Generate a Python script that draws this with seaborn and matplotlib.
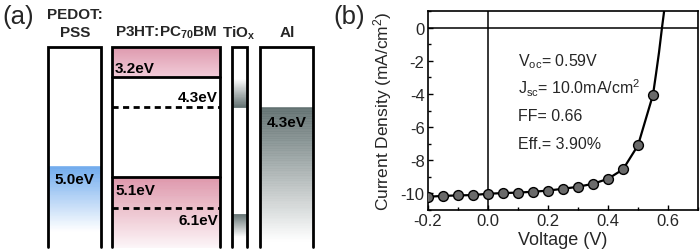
import numpy as np
import matplotlib
matplotlib.use("Agg")
import matplotlib.pyplot as plt
import matplotlib.transforms as mtransforms
from matplotlib.ticker import MultipleLocator
import seaborn as sns

# ---- panel (a): energy levels (eV) ----
pedot_level = 5.0
p3ht_lumo, p3ht_homo = 3.2, 5.1
pcbm_lumo, pcbm_homo = 4.3, 6.1
tiox_cb, tiox_vb = 4.3, 7.4
al_level = 4.3

# ---- panel (b): J-V curve ----
voltage = [-0.2, -0.15, -0.1, -0.05, 0.0, 0.05, 0.1, 0.15, 0.2, 0.25,
           0.3, 0.35, 0.4, 0.45, 0.5, 0.55]
current = [-10.2, -10.15, -10.12, -10.1, -10.02, -9.98, -9.95, -9.9, -9.83,
           -9.72, -9.6, -9.42, -9.12, -8.55, -7.1, -4.05]
tail_v = [0.56, 0.57, 0.58, 0.59]
tail_j = [-2.8, -1.5, 0.0, 1.4]
params = ["V$_{\\mathrm{oc}}$= 0.59V", "J$_{\\mathrm{sc}}$= 10.0mA/cm$^{\\mathrm{2}}$",
          "FF= 0.66", "Eff.= 3.90%"]

sns.set_theme(style="ticks")
plt.rcParams["font.family"] = ["Liberation Sans", "DejaVu Sans"]
plt.rcParams["mathtext.fontset"] = "custom"
plt.rcParams["mathtext.rm"] = "Liberation Sans"
plt.rcParams["mathtext.it"] = "Liberation Sans:italic"
plt.rcParams["mathtext.bf"] = "Liberation Sans:bold"

W, H = 700, 253
fig = plt.figure(figsize=(7, 2.53), dpi=100)

# schematic (non-linear) energy axis: eV -> depth in the drawing
anchor_e = np.array([1.0, 2.2, 3.2, 4.3, 5.0, 5.1, 6.1, 7.4, 8.4, 8.6])
anchor_p = np.array([0, 48, 78, 108, 167, 178, 209, 215, 248, 253], float)
fwd = lambda e: np.interp(e, anchor_e, anchor_p)
inv = lambda p: np.interp(p, anchor_p, anchor_e)

axa = fig.add_axes([0, 0, 360 / W, 1])
axa.set_yscale("function", functions=(fwd, inv))
axa.set_xlim(0, 360)
axa.set_ylim(inv(253), inv(0))
axa.axis("off")

top_e, bot_e = inv(48), inv(248)


def gradient(x0, x1, e_a, e_b, c_a, c_b, n=80):
    p = np.linspace(fwd(e_a), fwd(e_b), n + 1)
    e = inv(p)
    t = (np.arange(n) + 0.5) / n
    cols = [tuple((1 - s) * np.array(c_a) + s * np.array(c_b)) for s in t]
    axa.bar(np.full(n, (x0 + x1) / 2), np.diff(e), bottom=e[:-1], width=x1 - x0,
            color=cols, edgecolor=cols, linewidth=0.4, zorder=1)


def box(x0, x1):
    axa.plot([x0, x0, x1, x1], [bot_e, top_e, top_e, bot_e], color="black",
             lw=2.0, solid_joinstyle="miter", zorder=3)


cols_x = {"pedot": (48, 101), "p3ht": (112, 220), "tiox": (232, 247), "al": (260, 313)}
white = (1, 1, 1)
blue = (0.42, 0.66, 0.93)
pink = (0.87, 0.58, 0.66)
grey = (0.38, 0.44, 0.44)

x0, x1 = cols_x["pedot"]
gradient(x0, x1, pedot_level, inv(232), blue, white)
box(x0, x1)

x0, x1 = cols_x["p3ht"]
gradient(x0, x1, top_e, p3ht_lumo, (0.87, 0.60, 0.68), (0.95, 0.80, 0.85))
gradient(x0, x1, p3ht_homo, bot_e, pink, (0.99, 0.96, 0.97))
for lv in (p3ht_lumo, p3ht_homo):
    axa.plot([x0, x1], [lv, lv], color="black", lw=2.0, zorder=3)
for lv in (pcbm_lumo, pcbm_homo):
    axa.plot([x0, x1], [lv, lv], color="black", lw=2.0, ls=(0, (2.2, 1.6)), zorder=3)
box(x0, x1)

x0, x1 = cols_x["tiox"]
gradient(x0, x1, inv(80), tiox_cb, white, grey)
gradient(x0, x1, tiox_vb, inv(238), grey, white)
box(x0, x1)

x0, x1 = cols_x["al"]
gradient(x0, x1, al_level, inv(242), grey, white)
box(x0, x1)

lab = dict(fontsize=11, fontweight="bold", color="black", zorder=4,
           textcoords="offset points", va="center")
axa.annotate(f"{pedot_level:.1f}eV", (74.5, pedot_level), xytext=(0, -9.5), ha="center", **lab)
axa.annotate(f"{p3ht_lumo:.1f}eV", (115, p3ht_lumo), xytext=(0, 6.5), ha="left", **lab)
axa.annotate(f"{pcbm_lumo:.1f}eV", (218, pcbm_lumo), xytext=(0, 7), ha="right", **lab)
axa.annotate(f"{p3ht_homo:.1f}eV", (115, p3ht_homo), xytext=(0, -9.5), ha="left", **lab)
axa.annotate(f"{pcbm_homo:.1f}eV", (218, pcbm_homo), xytext=(0, -8.8), ha="right", **lab)
axa.annotate(f"{al_level:.1f}eV", (286.5, al_level), xytext=(0, -10.5), ha="center", **lab)

blend = mtransforms.blended_transform_factory(axa.transData, axa.transAxes)
hdr = dict(fontsize=11, fontweight="bold", ha="center", va="center", transform=blend)
axa.text(75, 1 - 15 / H, "PEDOT:", **hdr)
axa.text(75, 1 - 33 / H, "PSS", **hdr)
axa.text(166, 1 - 33 / H, "P3HT:PC$_{\\mathbf{70}}$BM", **hdr)
axa.text(239, 1 - 33 / H, "TiO$_{\\mathbf{x}}$", **hdr)
axa.text(287, 1 - 33 / H, "Al", **hdr)

fig.text(2 / W, 1 - 17 / H, "(a)", fontsize=18.5, va="center", ha="left")
fig.text(333 / W, 1 - 17 / H, "(b)", fontsize=18.5, va="center", ha="left")

# ---- panel (b) ----
axb = fig.add_axes([428 / W, 1 - 211 / H, 270 / W, 199 / H])
axb.axhline(0, color="black", lw=1.1, zorder=1)
axb.axvline(0, color="black", lw=1.1, zorder=1)
sns.lineplot(x=voltage + tail_v, y=current + tail_j, sort=False, estimator=None,
             color="black", lw=1.6, ax=axb, zorder=2)
sns.scatterplot(x=voltage, y=current, s=50, color="#6a6a6a", edgecolor="black",
                linewidth=1.0, ax=axb, zorder=3)

axb.set_xlim(-0.2, 0.7)
axb.set_ylim(-11, 1)
axb.set_xticks([-0.2, 0.0, 0.2, 0.4, 0.6])
axb.set_xticklabels(["-0.2", "0.0", "0.2", "0.4", "0.6"])
axb.set_yticks([0, -2, -4, -6, -8, -10])
axb.set_yticklabels(["0", "-2", "-4", "-6", "-8", "-10"])
axb.xaxis.set_minor_locator(MultipleLocator(0.1))
axb.yaxis.set_minor_locator(MultipleLocator(1))
axb.tick_params(which="both", direction="in", labelsize=12, width=1.0, color="black",
                top=False, right=False)
axb.tick_params(which="major", length=3.5, pad=2.5)
axb.tick_params(which="minor", length=2)
for sp in axb.spines.values():
    sp.set_linewidth(1.2)
    sp.set_color("black")

axb.set_xlabel("Voltage (V)", fontsize=13)
axb.set_ylabel("Current Density (mA/cm$^{\\mathrm{2}}$)", fontsize=12.5)
axb.xaxis.set_label_coords(0.5, -0.105)
axb.yaxis.set_label_coords(-0.125, 0.5)

for i, txt in enumerate(params):
    axb.text(0.1, -2.3 - 1.65 * i, txt, fontsize=11.5, ha="left", va="baseline")

fig.savefig("out.png", dpi=100)
